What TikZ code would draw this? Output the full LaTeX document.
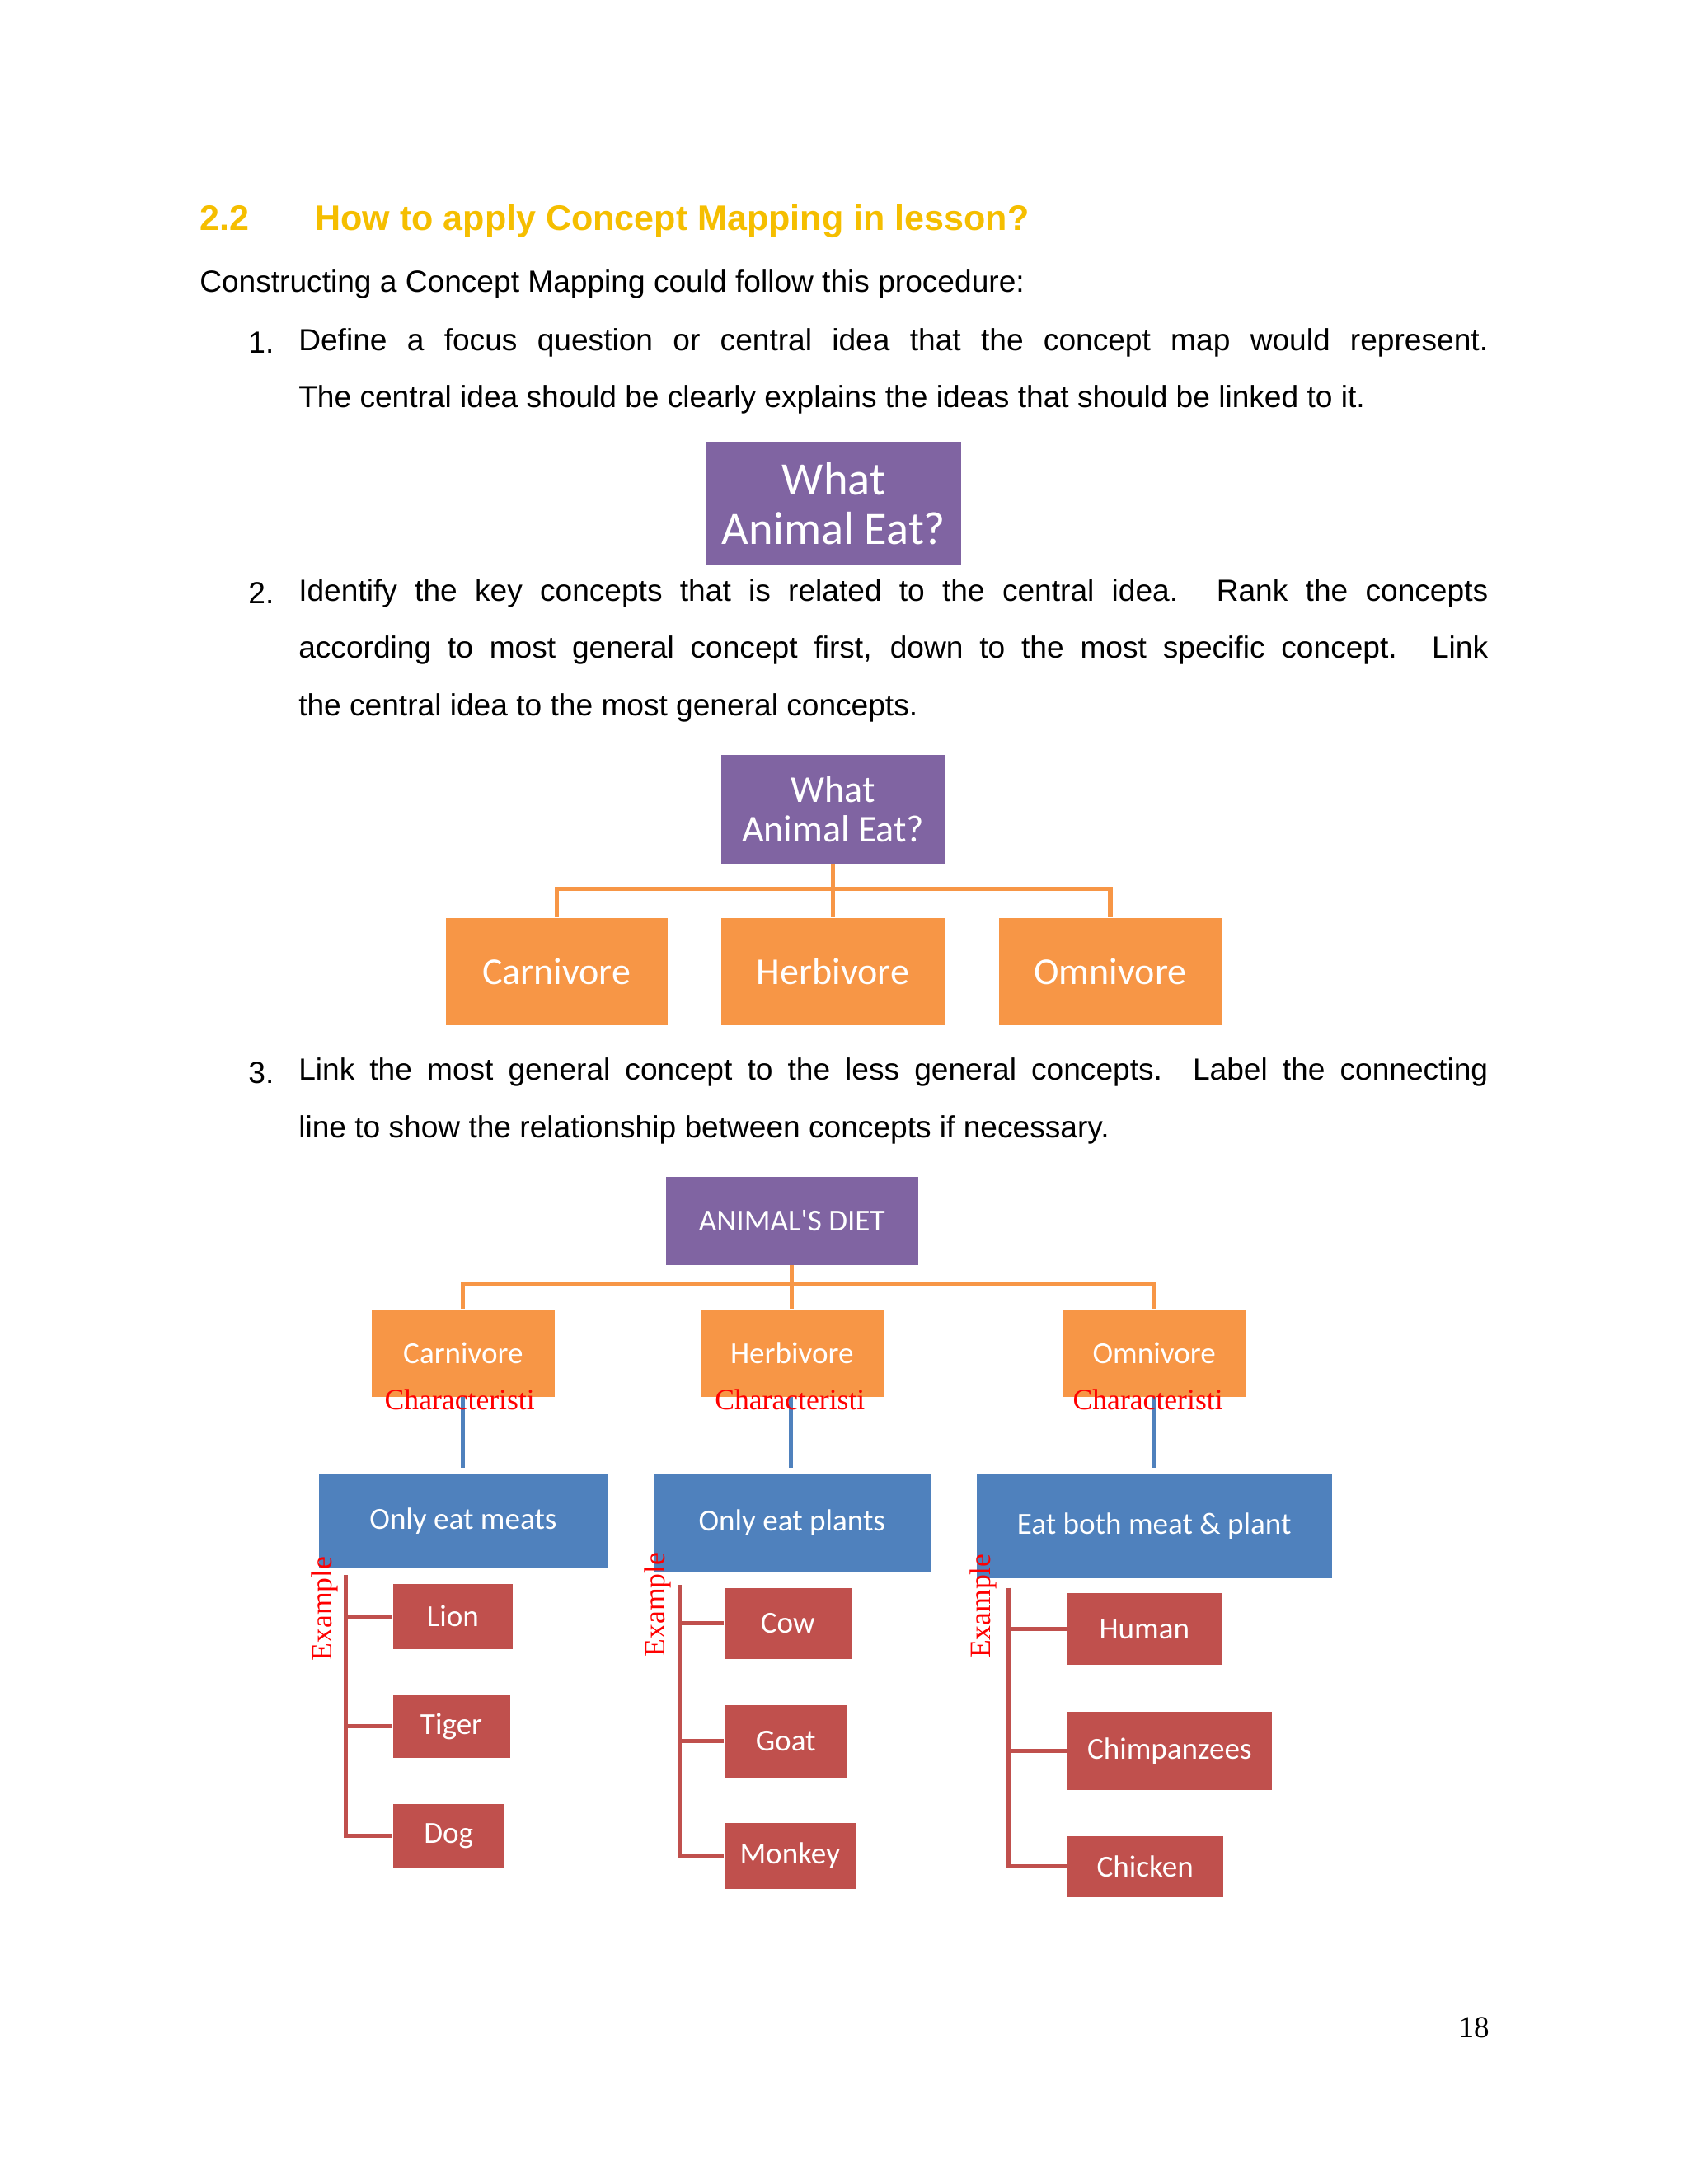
\documentclass[tikz,border=0pt]{standalone}
\usepackage{fontspec}
\setmainfont{Liberation Sans}
\newfontfamily\boxfont{Carlito}
\newfontfamily\serf{Liberation Serif}
\definecolor{purp}{HTML}{8064A2}
\definecolor{orng}{HTML}{F79646}
\definecolor{blu}{HTML}{4F81BD}
\definecolor{rd}{HTML}{C0504D}
\definecolor{head}{HTML}{F5BE00}
\newcommand\bx[8]{\node[draw=none,fill=#6,text=white,inner sep=0pt,align=center,font=#8,
  minimum width={(#4-#2)*0.02cm},minimum height={(#5-#3)*0.02cm}] (#1) at ({(#2+#4)/2},{-(#3+#5)/2}) {#7};}
\begin{document}
\begin{tikzpicture}[x=0.02cm,y=0.02cm,
  txt/.style={anchor=west,inner sep=0pt,font=\fontsize{12.5}{15}\selectfont},
  ol/.style={orng,line width=1.7pt},
  bl/.style={blu,line width=1.7pt},
  rl/.style={rd,line width=1.7pt},
  lab/.style={red,font=\serf\fontsize{12}{14}\selectfont,inner sep=0pt}]
\useasboundingbox (0,0) rectangle (1212,-1568);
\node[anchor=west,inner sep=0pt,text=head,font=\bfseries\fontsize{14.5}{17}\selectfont] (h) at (143,-159) {2.2\hspace{0.95cm}How to apply Concept Mapping in lesson?};
\node[txt] (t0) at (143,-204) {Constructing a Concept Mapping could follow this procedure:};
\node[txt] (n1) at (178,-246) {1.};
\node[txt] (l1a) at (214,-246) {\makebox[17.08cm][s]{Define a focus question or central idea that the concept map would represent.}};
\node[txt] (l1b) at (214,-287) {The central idea should be clearly explains the ideas that should be linked to it.};
\bx{w1}{507}{317}{690}{406}{purp}{What\\[-3pt]Animal Eat?}{\boxfont\fontsize{19}{23}\selectfont}
\node[txt] (n2) at (178,-426) {2.};
\node[txt] (l2a) at (214,-426) {\makebox[17.08cm][s]{Identify the key concepts that is related to the central idea. Rank the concepts}};
\node[txt] (l2b) at (214,-467) {\makebox[17.08cm][s]{according to most general concept first, down to the most specific concept. Link}};
\node[txt] (l2c) at (214,-508) {the central idea to the most general concepts.};
\bx{w2}{518}{542}{678}{620}{purp}{What\\[-3pt]Animal Eat?}{\boxfont\fontsize{15.5}{19}\selectfont}
\bx{c2}{320}{659}{479}{736}{orng}{Carnivore}{\boxfont\fontsize{15.5}{19}\selectfont}
\bx{h2}{518}{659}{678}{736}{orng}{Herbivore}{\boxfont\fontsize{15.5}{19}\selectfont}
\bx{o2}{717}{659}{877}{736}{orng}{Omnivore}{\boxfont\fontsize{15.5}{19}\selectfont}
\draw[ol] (w2.south) -- (h2.north);
\draw[ol] (c2.north) |- ([yshift=-18*0.02cm]w2.south) -| (o2.north);
\node[txt] (n3) at (178,-770) {3.};
\node[txt] (l3a) at (214,-770) {\makebox[17.08cm][s]{Link the most general concept to the less general concepts. Label the connecting}};
\node[txt] (l3b) at (214,-811) {line to show the relationship between concepts if necessary.};
\def\bf{\boxfont\fontsize{12.5}{15}\selectfont}
\bx{ad}{478}{845}{659}{908}{purp}{ANIMAL'S DIET}{\bf}
\bx{c3}{267}{940}{398}{1003}{orng}{Carnivore}{\bf}
\bx{h3}{503}{940}{634}{1003}{orng}{Herbivore}{\bf}
\bx{o3}{763}{940}{894}{1003}{orng}{Omnivore}{\bf}
\draw[ol] (ad.south) -- (h3.north);
\draw[ol] (c3.north) |- ([yshift=-14*0.02cm]ad.south) -| (o3.north);
\bx{b1}{229}{1058}{436}{1126}{blu}{Only eat meats}{\bf}
\bx{b2}{469}{1058}{668}{1129}{blu}{Only eat plants}{\bf}
\bx{b3}{701}{1058}{956}{1133}{blu}{Eat both meat \& plant}{\bf}
\draw[bl] (332,-1003) coordinate (k1) -- (332,-1054);
\draw[bl] (568,-1003) coordinate (k2) -- (568,-1054);
\draw[bl] (828,-1003) coordinate (k3) -- (828,-1054);
\node[lab] (ch1) at (330,-1005) {Characteristi};
\node[lab] (ch2) at (567,-1005) {Characteristi};
\node[lab] (ch3) at (824,-1005) {Characteristi};
% left
\bx{lion}{282}{1137}{368}{1184}{rd}{Lion}{\bf}
\bx{tiger}{282}{1217}{366}{1262}{rd}{Tiger}{\bf}
\bx{dog}{282}{1295}{362}{1341}{rd}{Dog}{\bf}
\coordinate (s1) at (248,-1131);
\draw[rl] (s1) |- (dog.west);
\draw[rl] (lion.west) -- (lion.west -| s1);
\draw[rl] (tiger.west) -- (tiger.west -| s1);
\node[lab,rotate=90] (e1) at (233,-1155) {Example};
% middle
\bx{cow}{520}{1140}{611}{1191}{rd}{Cow}{\bf}
\bx{goat}{520}{1224}{608}{1276}{rd}{Goat}{\bf}
\bx{monkey}{520}{1309}{614}{1356}{rd}{Monkey}{\bf}
\coordinate (s2) at (488,-1138);
\draw[rl] (s2) |- (monkey.west);
\draw[rl] (cow.west) -- (cow.west -| s2);
\draw[rl] (goat.west) -- (goat.west -| s2);
\node[lab,rotate=90] (e2) at (472,-1152) {Example};
% right
\bx{human}{766}{1144}{877}{1195}{rd}{Human}{\bf}
\bx{chimp}{766}{1229}{913}{1285}{rd}{Chimpanzees}{\bf}
\bx{chick}{766}{1318}{878}{1362}{rd}{Chicken}{\bf}
\coordinate (s3) at (724,-1140);
\draw[rl] (s3) |- (chick.west);
\draw[rl] (human.west) -- (human.west -| s3);
\draw[rl] (chimp.west) -- (chimp.west -| s3);
\node[lab,rotate=90] (e3) at (706,-1153) {Example};
\node[inner sep=0pt,font=\serf\fontsize{12.5}{15}\selectfont] (pg) at (1058,-1456) {18};
\end{tikzpicture}
\end{document}
